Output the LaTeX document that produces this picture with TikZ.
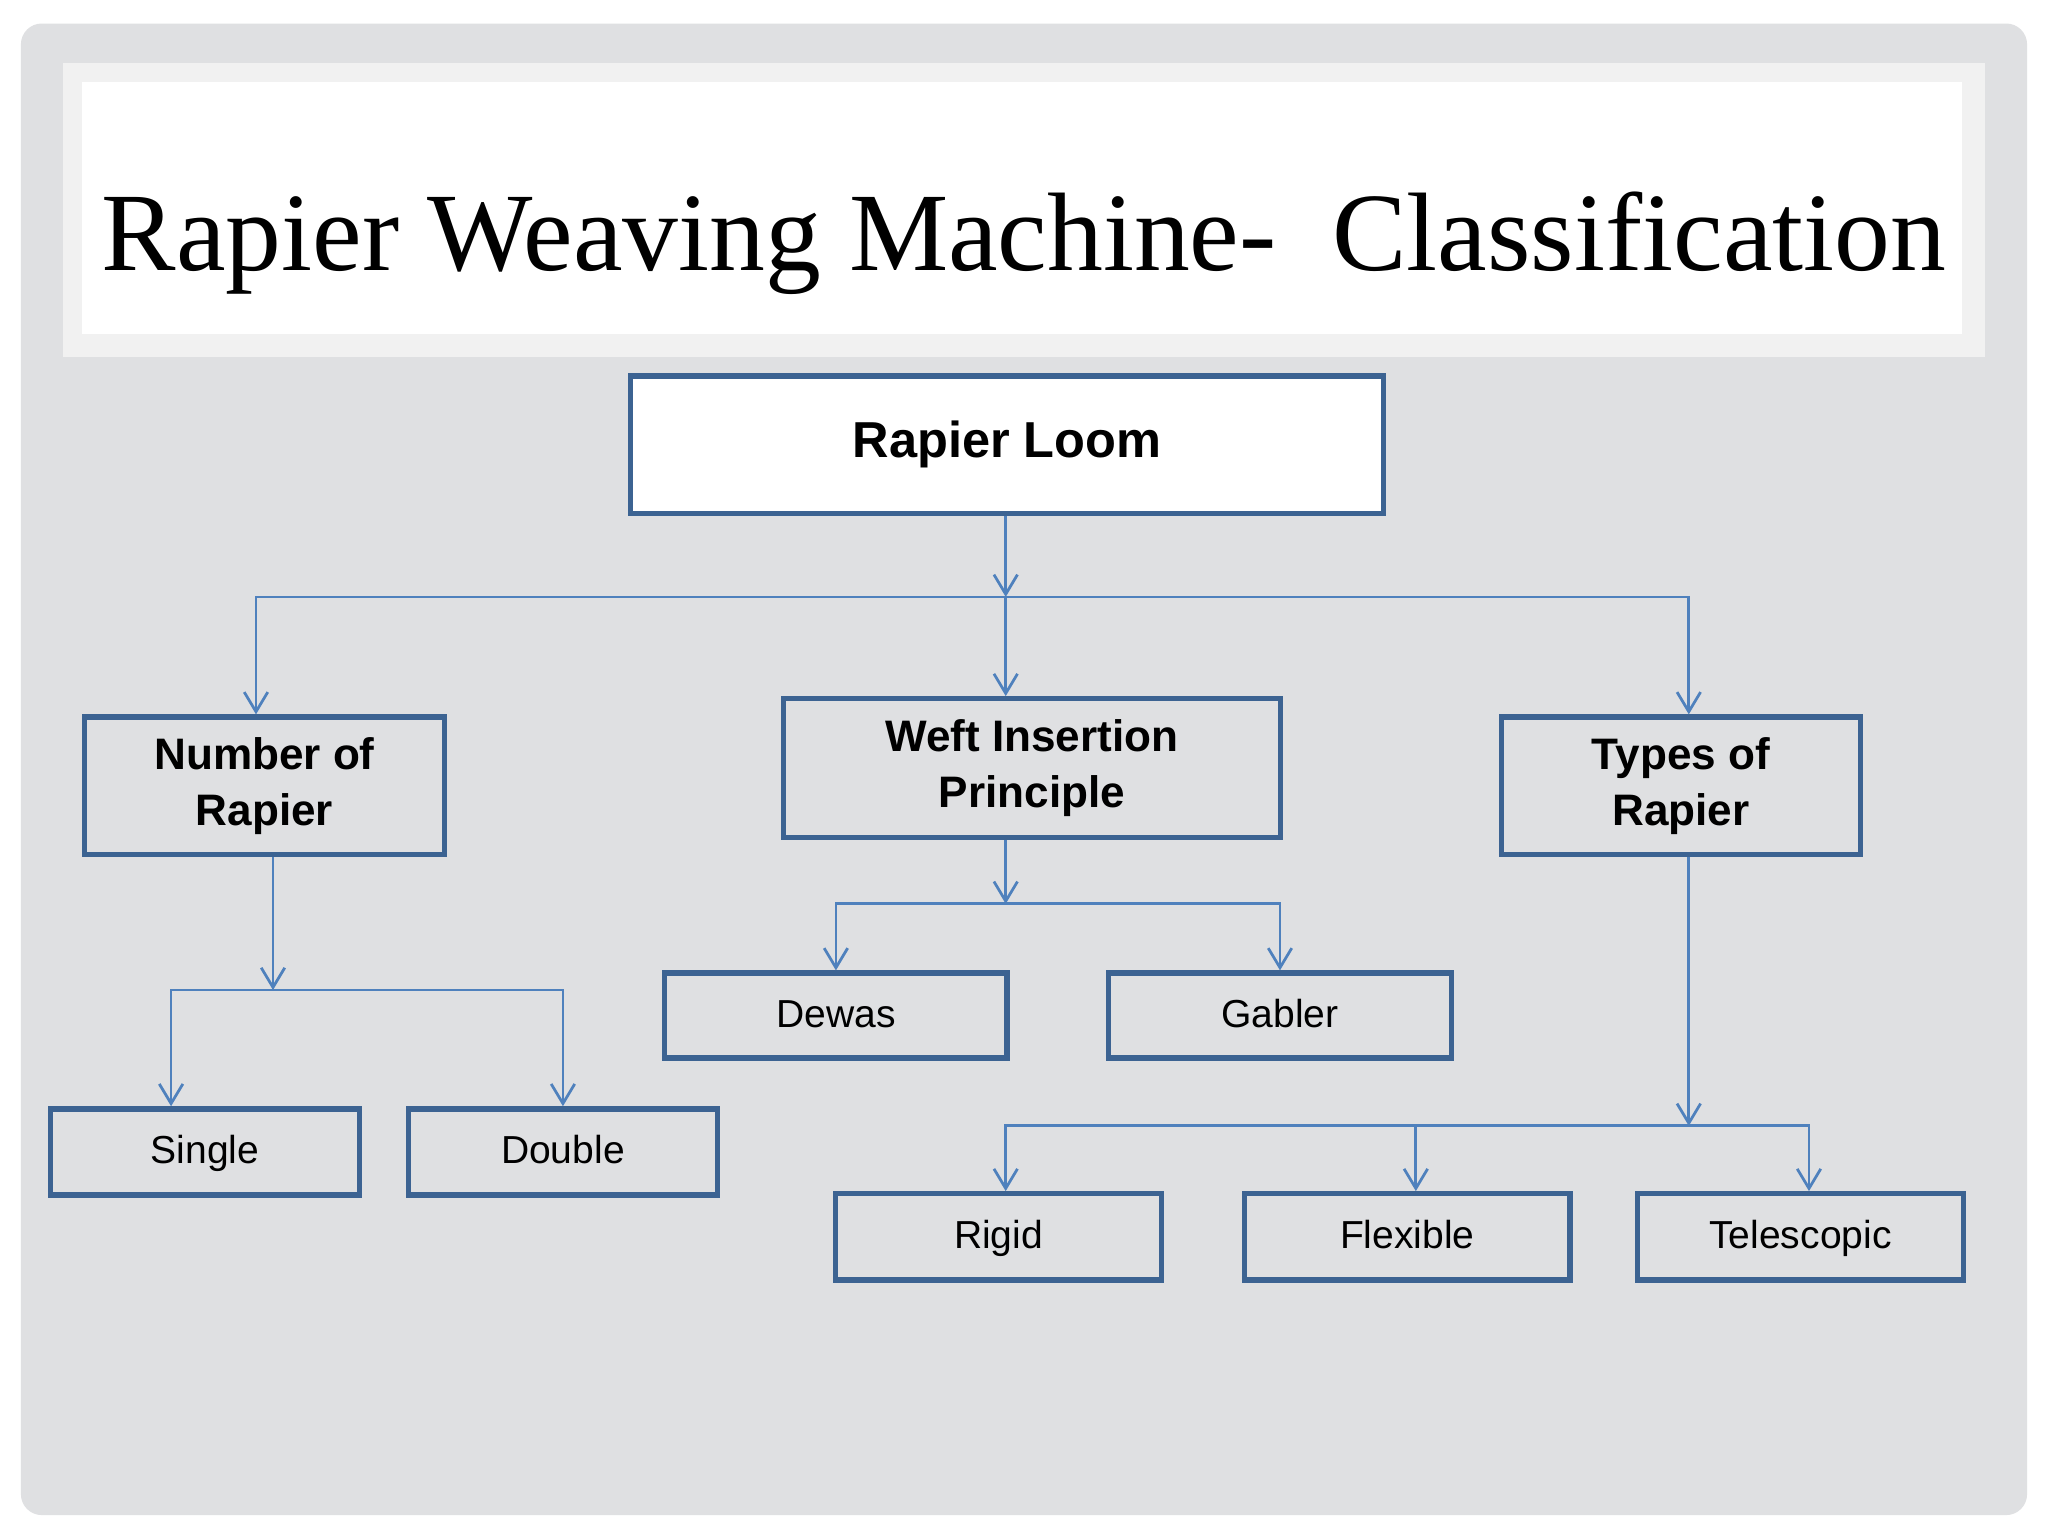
\documentclass[tikz,border=0pt]{standalone}
\usepackage{fontspec}
\setmainfont{Liberation Serif}
\setsansfont{Liberation Sans}
\usetikzlibrary{arrows.meta,positioning}

\definecolor{slidegray}{HTML}{DFE0E2}
\definecolor{bandgray}{HTML}{F1F1F1}
\definecolor{boxblue}{HTML}{3C6392}
\definecolor{linkblue}{HTML}{4F81BD}

\begin{document}
\begin{tikzpicture}[x=0.01cm,y=-0.01cm,
  topbox/.style={rectangle,draw=boxblue,line width=1.15pt,fill=white,inner sep=0pt,font=\sffamily\bfseries\fontsize{11}{13}\selectfont},
  midbox/.style={rectangle,draw=boxblue,line width=1.15pt,inner sep=0pt,align=center,font=\sffamily\bfseries\fontsize{9.6}{12.2}\selectfont,minimum width=2.75cm,minimum height=1.05cm},
  leafbox/.style={rectangle,draw=boxblue,line width=1.15pt,inner sep=0pt,text height=0.72em,text depth=0.21em,font=\sffamily\fontsize{8.5}{10}\selectfont,minimum height=0.66cm},
  link/.style={draw=linkblue,line width=0.6pt,-{Straight Barb[length=1.5mm,width=1.8mm]}}]
\useasboundingbox (0,0) rectangle (1568,1176);

% slide background
\fill[white] (0,0) rectangle (1568,1176);
\fill[slidegray,rounded corners=0.16cm] (16,18) rectangle (1552,1160);
\fill[bandgray] (48,48) rectangle (1520,273);
\fill[white] (63,63) rectangle (1502,256);
\node[anchor=base,inner sep=0pt,font=\fontsize{24.3}{28}\selectfont] (title) at (784,207) {Rapier Weaving Machine-\ \ Classification};

\node[topbox,minimum width=5.76cm,minimum height=1.05cm] (loom) at (771,340.5) {Rapier Loom};

\node[midbox] (number) at (202.5,601.5) {Number of\\Rapier};
\node[midbox,minimum width=3.8cm,minimum height=1.06cm] (weft) at (790,588) {Weft Insertion\\Principle};
\node[midbox] (types) at (1287,601.5) {Types of\\Rapier};

\node[leafbox,minimum width=2.62cm,minimum height=0.65cm] (dewas) at (640,777.5) {Dewas};
\node[leafbox,minimum width=2.62cm,minimum height=0.65cm] (gabler) at (980,777.5) {Gabler};

\node[leafbox,minimum width=2.36cm] (single) at (157,882) {Single};
\node[leafbox,minimum width=2.36cm] (double) at (431,882) {Double};

\node[leafbox,minimum width=2.49cm] (rigid) at (764.5,947) {Rigid};
\node[leafbox,minimum width=2.49cm] (flexible) at (1077.5,947) {Flexible};
\node[leafbox,minimum width=2.49cm] (telescopic) at (1378.5,947) {Telescopic};

% junction points of the elbow lines
\coordinate (jLoom) at (770,457);
\coordinate (jNumber) at (209,758);
\coordinate (jWeft) at (770,692);
\coordinate (jTypes) at (1293,862);

% first level
\draw[link] (loom.south -| jLoom) -- (jLoom);
\draw[link] (jLoom) -- (jLoom |- weft.north);
\draw[link] (jLoom) -| ([xshift=-0.065cm]number.north);
\draw[link] (jLoom) -| (jTypes |- types.north);

% number of rapier
\draw[link] (jNumber |- number.south) -- (jNumber);
\draw[link] (jNumber) -| ([xshift=-0.26cm]single.north);
\draw[link] (jNumber) -| (double.north);

% weft insertion principle
\draw[link] (jWeft |- weft.south) -- (jWeft);
\draw[link] (jWeft) -| (dewas.north);
\draw[link] (jWeft) -| (gabler.north);

% types of rapier
\draw[link] (types.south -| jTypes) -- (jTypes);
\draw[link] (jTypes) -| ([xshift=0.055cm]rigid.north);
\draw[link] (jTypes) -| ([xshift=0.065cm]flexible.north);
\draw[link] (jTypes) -| ([xshift=0.065cm]telescopic.north);
\end{tikzpicture}
\end{document}
